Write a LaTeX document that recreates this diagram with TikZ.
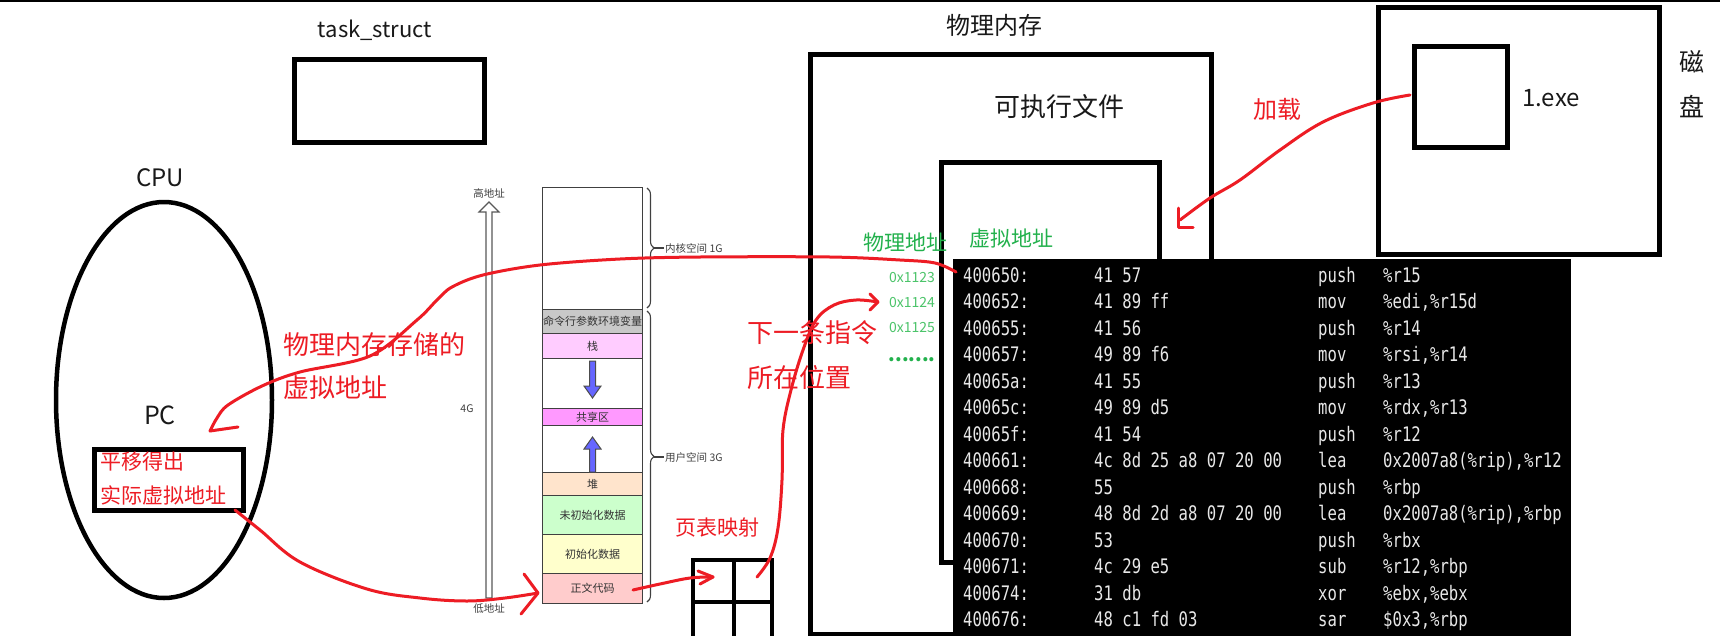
\documentclass[tikz,border=0pt]{standalone}
\usepackage{fontspec}
\setmainfont{Noto Sans CJK SC}
\newfontfamily\codefont[FakeStretch=0.78]{DejaVu Sans Mono}
\usetikzlibrary{shapes.geometric,decorations.pathreplacing}
\definecolor{penred}{HTML}{ED1C24}
\definecolor{pengreen}{HTML}{22B14C}
\definecolor{lightgreen}{HTML}{4CC46A}
\definecolor{inkgray}{HTML}{404040}
\definecolor{cmdgray}{HTML}{C8C8C8}
\definecolor{stackpink}{HTML}{FFCCFF}
\definecolor{sharedmag}{HTML}{FF99FF}
\definecolor{heappeach}{HTML}{FFE4CC}
\definecolor{bssgreen}{HTML}{CCFFCC}
\definecolor{datayellow}{HTML}{FFFFCC}
\definecolor{textpink}{HTML}{FFCCCC}
\definecolor{arrowblue}{HTML}{6666FF}
\definecolor{codewhite}{HTML}{E8E8E8}
\begin{document}
\begin{tikzpicture}[x=1pt,y=-1pt,
  bbox/.style={draw=black, line width=4.5pt, inner sep=0pt, anchor=north west},
  lbl/.style={inner sep=0pt, text=black!90, font=\fontsize{#1}{#1}\selectfont},
  redlbl/.style={inner sep=0pt, text=penred, font=\fontsize{#1}{#1}\selectfont},
  greenlbl/.style={inner sep=0pt, text=pengreen, font=\fontsize{#1}{#1}\selectfont},
  hexlbl/.style={inner sep=0pt, text=lightgreen, font=\fontsize{14}{14}\selectfont},
  memblk/.style={draw=inkgray, line width=1.3pt, inner sep=0pt, anchor=north west,
     minimum width=100pt, minimum height=#1, text=black!80, font=\fontsize{11}{11}\selectfont},
  smalllbl/.style={inner sep=0pt, text=black!75, font=\fontsize{10.5}{10.5}\selectfont},
  codetxt/.style={inner sep=0pt, anchor=base west, text=codewhite, font=\codefont\fontsize{20}{20}\selectfont},
  redpen/.style={draw=penred, line width=3pt, line cap=round, line join=round},
  bracestyle/.style={draw=inkgray, line width=1.1pt, decorate, decoration={brace, amplitude=7pt}}
]
\useasboundingbox (0,0) rectangle (1720,635);
\fill[white] (0,0) rectangle (1720,635);
\draw[line width=2pt] (0,1) -- (1720,1);

% task_struct
\node[lbl=22] (tasklbl) at (375,30) {task\_struct};
\node[bbox, minimum width=190pt, minimum height=83pt] (task) at (292,57) {};

% CPU
\node[lbl=24] (cpulbl) at (160,178) {CPU};
\node[draw, ellipse, line width=4.5pt, inner sep=0pt, minimum width=216pt, minimum height=396pt] (cpu) at (164,400) {};
\node[lbl=25] (pclbl) at (160,415) {PC};
\node[bbox, minimum width=149pt, minimum height=61pt] (pc) at (92,447) {};
\node[redlbl=21, anchor=west] (shift1) at (100,462) {平移得出};
\node[redlbl=21, anchor=west] (shift2) at (100,495) {实际虚拟地址};

% memory layout column
\node[memblk=416pt] (col) at (542,187) {};
\node[memblk=24pt, fill=cmdgray] (cmd) at (542,309) {命令行参数环境变量};
\node[memblk=25pt, fill=stackpink] (stack) at (542,333) {栈};
\node[memblk=17pt, fill=sharedmag] (shared) at (542,408) {共享区};
\node[memblk=23pt, fill=heappeach] (heap) at (542,472) {堆};
\node[memblk=39pt, fill=bssgreen] (bss) at (542,495) {未初始化数据};
\node[memblk=39pt, fill=datayellow] (data) at (542,534) {初始化数据};
\node[memblk=30pt, fill=textpink] (text) at (542,573) {正文代码};
% blue growth arrows
\filldraw[fill=arrowblue, draw=black!70, line width=1pt]
  (589.5,361) -- (595.5,361) -- (595.5,386) -- (601,386) -- (592.5,398) -- (584,386) -- (589.5,386) -- cycle;
\filldraw[fill=arrowblue, draw=black!70, line width=1pt]
  (589.5,472) -- (595.5,472) -- (595.5,449) -- (601,449) -- (592.5,437) -- (584,449) -- (589.5,449) -- cycle;
% tall address arrow
\filldraw[fill=white, draw=black!65, line width=1.2pt]
  (486,598) -- (486,212) -- (479,212) -- (489,202) -- (499,212) -- (492,212) -- (492,598) -- cycle;
\node[smalllbl] (hi) at (489,193) {高地址};
\node[smalllbl] (lo) at (489,609) {低地址};
\node[smalllbl] (fourg) at (467,409) {4G};
% braces
\draw[bracestyle] (647,188) -- (647,308);
\draw[bracestyle] (647,311) -- (647,602);
\draw[draw=inkgray, line width=1.1pt] (654,248) -- (664,248);
\draw[draw=inkgray, line width=1.1pt] (654,457) -- (664,457);
\node[smalllbl, anchor=west] (kern) at (665,248) {内核空间 1G};
\node[smalllbl, anchor=west] (user) at (665,458) {用户空间 3G};

% page table grid
\draw[line width=4pt] (693,645) -- (693,560) -- (772,560) -- (772,645);
\draw[line width=4pt] (734,560) -- (734,645);
\draw[line width=4pt] (693,602) -- (772,602);
\node[redlbl=21] (ptlbl) at (717,528) {页表映射};

% physical memory
\node[lbl=24] (physlbl) at (994,25) {物理内存};
\node[bbox, minimum width=401pt, minimum height=580pt] (phys) at (808,52) {};
\node[lbl=26] (exelbl) at (1059,107) {可执行文件};
\node[bbox, minimum width=218pt, minimum height=400pt] (exein) at (939,160) {};

% code panel
\node[fill=black, inner sep=0pt, anchor=north west, minimum width=618pt, minimum height=380pt] (panel) at (953,259) {};
\foreach \a/\b/\c/\d [count=\i] in {
  400650:/41 57/push/\%r15,
  400652:/41 89 ff/mov/{\%edi,\%r15d},
  400655:/41 56/push/\%r14,
  400657:/49 89 f6/mov/{\%rsi,\%r14},
  40065a:/41 55/push/\%r13,
  40065c:/49 89 d5/mov/{\%rdx,\%r13},
  40065f:/41 54/push/\%r12,
  400661:/4c 8d 25 a8 07 20 00/lea/{0x2007a8(\%rip),\%r12},
  400668:/55/push/\%rbp,
  400669:/48 8d 2d a8 07 20 00/lea/{0x2007a8(\%rip),\%rbp},
  400670:/53/push/\%rbx,
  400671:/4c 29 e5/sub/{\%r12,\%rbp},
  400674:/31 db/xor/{\%ebx,\%ebx},
  400676:/48 c1 fd 03/sar/{\$0x3,\%rbp}} {
  \node[codetxt] (addr\i) at (963,{282+26.5*(\i-1)}) {\a};
  \node[codetxt] (bytes\i) at (1094,{282+26.5*(\i-1)}) {\b};
  \node[codetxt] (op\i) at (1318,{282+26.5*(\i-1)}) {\c};
  \node[codetxt] (arg\i) at (1383,{282+26.5*(\i-1)}) {\d};
}

% green labels
\node[greenlbl=21] (pa) at (905,243) {物理地址};
\node[greenlbl=21] (va) at (1011,239) {虚拟地址};
\node[hexlbl] (h1) at (912,278) {0x1123};
\node[hexlbl] (h2) at (912,303) {0x1124};
\node[hexlbl] (h3) at (912,328) {0x1125};
\node[inner sep=0pt, text=pengreen, font=\bfseries\fontsize{19}{19}\selectfont, anchor=base] (hdots) at (912,361) {.......};

% disk
\node[bbox, minimum width=281pt, minimum height=247pt] (disk) at (1376,5) {};
\node[bbox, minimum width=93pt, minimum height=101pt] (exefile) at (1412,44) {};
\node[lbl=24] (exename) at (1551,98) {1.exe};
\node[lbl=25] (disk1) at (1692,62) {磁};
\node[lbl=25] (disk2) at (1692,107) {盘};

% red labels
\node[redlbl=24] (loadlbl) at (1277,109) {加载};
\node[redlbl=26, anchor=west] (nx1) at (747,333) {下一条指令};
\node[redlbl=26, anchor=west] (nx2) at (747,378) {所在位置};
\node[redlbl=26, anchor=west] (st1) at (283,345) {物理内存存储的};
\node[redlbl=26, anchor=west] (st2) at (283,388) {虚拟地址};

% red hand-drawn connectors
\coordinate (loadS) at (1410,95);
\coordinate (loadT) at (1178,227);
\draw[redpen] plot[smooth, tension=0.6] coordinates {(loadS) (1373,103) (1323,122) (1280,150) (1240,180) (1210,198) (1180,220)};
\draw[redpen] (1178,208) -- (loadT) -- (1193,227);

\coordinate (txtS) at (633,590);
\coordinate (ptT) at (713,577);
\draw[redpen] plot[smooth, tension=0.6] coordinates {(txtS) (660,584) (690,578) (ptT)};
\draw[redpen] (698,571) -- (ptT) -- (700,584);

\coordinate (ptS) at (757,577);
\coordinate (hexT) at (878,302);
\draw[redpen] plot[smooth, tension=0.6] coordinates {(ptS) (770,558) (778,528) (782,480) (783,430) (791,390) (803,350) (816,320) (834,305) (856,300) (hexT)};
\draw[redpen] (870,294) -- (hexT) -- (870,310);

\coordinate (codeS) at (956,272);
\coordinate (pcT) at (210,431);
\draw[redpen] plot[smooth, tension=0.55] coordinates {(codeS) (935,263) (900,260) (830,257) (700,257) (620,259) (540,265) (483,275) (452,287) (437,300) (417,320) (370,356) (300,372) (262,386) (228,405) (217,418) (pcT)};
\draw[redpen] (pcT) -- (238,427);

\coordinate (pcS) at (235,510);
\coordinate (colT) at (538,593);
\draw[redpen] plot[smooth, tension=0.6] coordinates {(pcS) (260,530) (300,562) (367,589) (420,598) (467,601) (505,598) (colT)};
\draw[redpen] (524,574) -- (colT) -- (521,614);
\end{tikzpicture}
\end{document}
